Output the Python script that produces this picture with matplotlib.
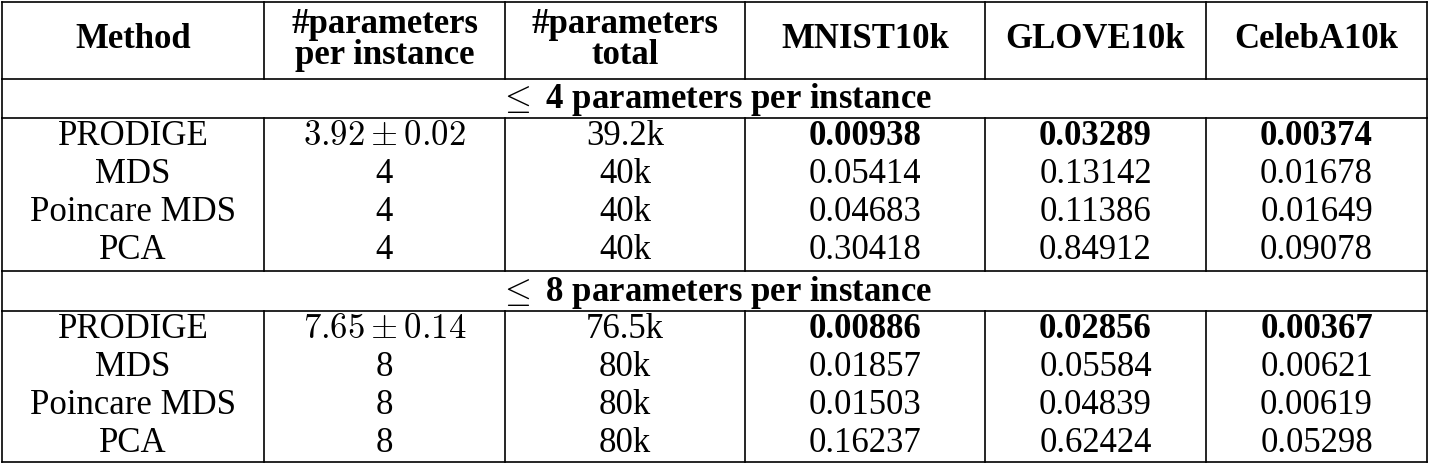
import matplotlib.pyplot as plt

plt.rcParams['font.family'] = 'Liberation Serif'
plt.rcParams['mathtext.fontset'] = 'cm'

headers = ['Method', '#parameters\nper instance', '#parameters\ntotal',
           'MNIST10k', 'GLOVE10k', 'CelebA10k']
sections = [r'$\leq$ 4 parameters per instance', r'$\leq$ 8 parameters per instance']
methods = ['PRODIGE', 'MDS', 'Poincare MDS', 'PCA']
per_instance = [[r'$3.92 \pm 0.02$', '4', '4', '4'],
                [r'$7.65 \pm 0.14$', '8', '8', '8']]
total = [['39.2k', '40k', '40k', '40k'], ['76.5k', '80k', '80k', '80k']]
mnist = [['0.00938', '0.05414', '0.04683', '0.30418'],
         ['0.00886', '0.01857', '0.01503', '0.16237']]
glove = [['0.03289', '0.13142', '0.11386', '0.84912'],
         ['0.02856', '0.05584', '0.04839', '0.62424']]
celeba = [['0.00374', '0.01678', '0.01649', '0.09078'],
          ['0.00367', '0.00621', '0.00619', '0.05298']]

W, H = 1430, 465
fig = plt.figure(figsize=(W / 100, H / 100), dpi=100)
ax = fig.add_axes([0, 0, 1, 1])
ax.set_xlim(0, W)
ax.set_ylim(H, 0)
ax.axis('off')

col_x = [2, 264, 505, 745, 985, 1206, 1427]
centers = [(a + b) / 2 for a, b in zip(col_x[:-1], col_x[1:])]
fs = 25
lw = 1.2

# header
for c, h in zip(centers, headers):
    ax.text(c, 40, h, ha='center', va='center', fontsize=fs, fontweight='bold', linespacing=0.95)

def hline(y):
    ax.plot([col_x[0], col_x[-1]], [y, y], color='black', lw=lw)

def vlines(y0, y1, inner=True):
    xs = col_x if inner else [col_x[0], col_x[-1]]
    for x in xs:
        ax.plot([x, x], [y0, y1], color='black', lw=lw)

hline(2)
hline(79)
vlines(2, 79)

blocks = [(79, 118, 271), (271, 311, 462)]
for s, (ys, yr, ye) in enumerate(blocks):
    ax.text((col_x[0] + col_x[-1]) / 2, (ys + yr) / 2 + 1, sections[s], ha='center', va='center',
            fontsize=fs, fontweight='bold')
    vlines(ys, yr, inner=False)
    hline(yr)
    vlines(yr, ye)
    hline(ye)
    for i, m in enumerate(methods):
        y = yr + 18 + i * 38
        vals = [m, per_instance[s][i], total[s][i], mnist[s][i], glove[s][i], celeba[s][i]]
        for j, v in enumerate(vals):
            bold = (i == 0 and j >= 3)
            ax.text(centers[j], y, v, ha='center', va='center', fontsize=fs,
                    fontweight='bold' if bold else 'normal')

fig.savefig('out.png', dpi=100)
